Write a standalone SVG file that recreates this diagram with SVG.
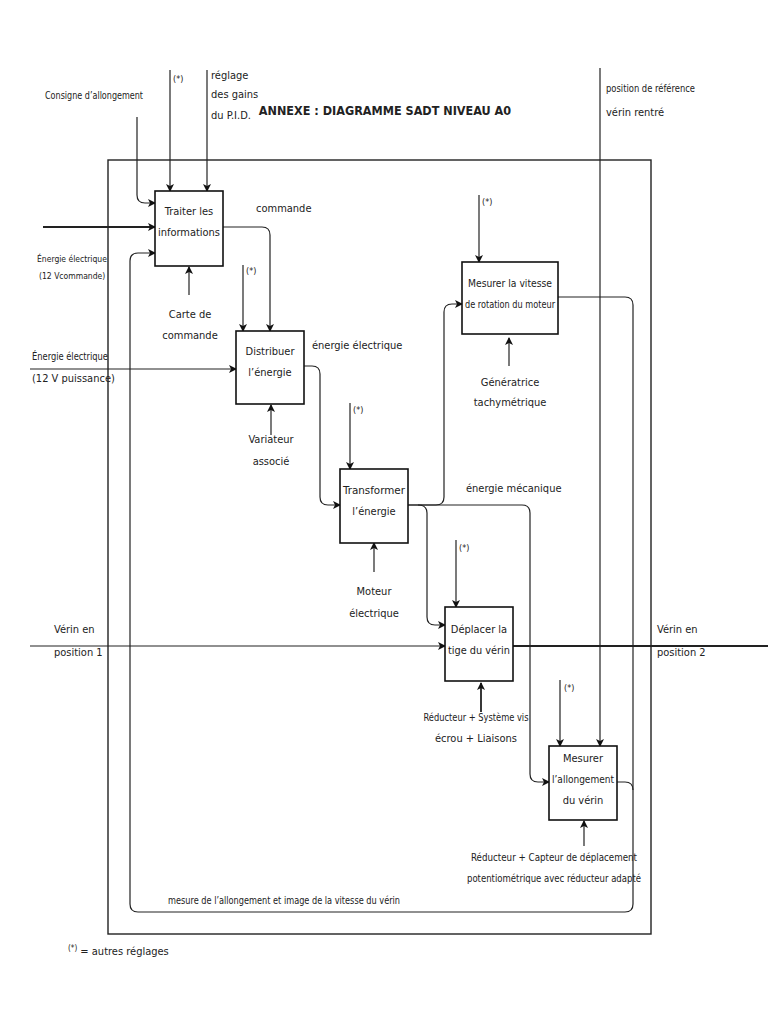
<svg xmlns="http://www.w3.org/2000/svg" width="768" height="1024" viewBox="0 0 768 1024">
<style>
text{font-family:"DejaVu Sans",sans-serif;font-stretch:condensed;font-size:11px;fill:#222}
.c{text-anchor:middle}
.box{fill:#fff;stroke:#111;stroke-width:1.6}
.ln{fill:none;stroke:#222;stroke-width:1.2}
.th{fill:none;stroke:#222;stroke-width:1.8}
</style>
<defs><marker id="a" markerWidth="8" markerHeight="8" refX="7" refY="4" orient="auto" markerUnits="userSpaceOnUse"><path d="M0,0 L8,4 L0,8 L2,4 Z" fill="#111"/></marker></defs>
<rect width="768" height="1024" fill="#fff"/>
<text x="385" y="115" class="c" style="font-weight:bold;font-size:12.5px">ANNEXE : DIAGRAMME SADT NIVEAU A0</text>
<rect x="108" y="160" width="543" height="774" fill="none" stroke="#222" stroke-width="1.4"/>
<g id="connectors">
<path class="ln" d="M137,117 V195 Q137,203 145,203 H155" marker-end="url(#a)"/>
<path class="ln" d="M170,70 V191" marker-end="url(#a)"/>
<path class="ln" d="M207,70 V191" marker-end="url(#a)"/>
<path class="th" d="M43,227 H155" marker-end="url(#a)"/>
<path class="ln" d="M189,295 V267" marker-end="url(#a)"/>
<path class="ln" d="M223,227 H262 Q270,227 270,235 V331" marker-end="url(#a)"/>
<path class="ln" d="M243,265 V331" marker-end="url(#a)"/>
<path class="ln" stroke="#888" d="M30,369 H236" marker-end="url(#a)"/>
<path class="ln" d="M271,435 V405" marker-end="url(#a)"/>
<path class="ln" d="M304,366 H312 Q320,366 320,374 V497 Q320,505 328,505 H340" marker-end="url(#a)"/>
<path class="ln" d="M350,403 V469" marker-end="url(#a)"/>
<path class="ln" d="M374,572 V543" marker-end="url(#a)"/>
<path class="ln" d="M408,505 H436 Q444,505 444,497 V312 Q444,304 452,304 H462" marker-end="url(#a)"/>
<path class="ln" d="M408,505 H522 Q530,505 530,513 V774 Q530,782 538,782 H549" marker-end="url(#a)"/>
<path class="ln" d="M418,505 Q427,505 427,513 V617 Q427,625 435,625 H445" marker-end="url(#a)"/>
<path class="ln" d="M479,195 V262" marker-end="url(#a)"/>
<path class="ln" d="M509,366 V338" marker-end="url(#a)"/>
<path class="ln" stroke="#777" d="M30,646 H445" marker-end="url(#a)"/>
<path class="th" d="M513,646 H768"/>
<path class="ln" d="M456,540 V607" marker-end="url(#a)"/>
<path class="th" d="M481,712 V683" marker-end="url(#a)"/>
<path class="ln" d="M600,68 V746" marker-end="url(#a)"/>
<path class="ln" d="M560,680 V746" marker-end="url(#a)"/>
<path class="ln" d="M584,846 V821" marker-end="url(#a)"/>
<path class="ln" d="M558,297 H625 Q633,297 633,305 V904 Q633,912 625,912 H138 Q130,912 130,904 V261 Q130,253 138,253 H155" marker-end="url(#a)"/>
<path class="ln" d="M617,782 H625 Q633,782 633,790"/>
</g>
<g id="n1"><rect class="box" x="155" y="191" width="68" height="75"/><text x="189" y="215" class="c">Traiter les</text><text x="189" y="236" class="c" textLength="62" lengthAdjust="spacingAndGlyphs">informations</text></g>
<g id="n2"><rect class="box" x="236" y="331" width="68" height="73"/><text x="270" y="355" class="c">Distribuer</text><text x="270" y="376" class="c">l’énergie</text></g>
<g id="n3"><rect class="box" x="340" y="469" width="68" height="74"/><text x="374" y="494" class="c" textLength="62" lengthAdjust="spacingAndGlyphs">Transformer</text><text x="374" y="515" class="c">l’énergie</text></g>
<g id="n4"><rect class="box" x="462" y="262" width="96" height="72"/><text x="510" y="287" class="c" textLength="84" lengthAdjust="spacingAndGlyphs">Mesurer la vitesse</text><text x="510" y="308" class="c" textLength="90" lengthAdjust="spacingAndGlyphs">de rotation du moteur</text></g>
<g id="n5"><rect class="box" x="445" y="607" width="68" height="74"/><text x="479" y="633" class="c">Déplacer la</text><text x="479" y="654" class="c" textLength="62" lengthAdjust="spacingAndGlyphs">tige du vérin</text></g>
<g id="n6"><rect class="box" x="549" y="746" width="68" height="74"/><text x="583" y="762" class="c">Mesurer</text><text x="583" y="783" class="c" textLength="62" lengthAdjust="spacingAndGlyphs">l’allongement</text><text x="583" y="804" class="c">du vérin</text></g>
<g id="labels">
<text x="45" y="99" textLength="98" lengthAdjust="spacingAndGlyphs">Consigne d’allongement</text>
<text x="173" y="82" style="font-size:9px">(*)</text>
<text x="211" y="79">réglage</text><text x="211" y="98">des gains</text><text x="211" y="119">du P.I.D.</text>
<text x="256" y="212">commande</text>
<text x="37" y="262" style="font-size:8.5px">Énergie électrique</text><text x="39" y="279" style="font-size:8.5px">(12 Vcommande)</text>
<text x="246" y="274" style="font-size:9px">(*)</text>
<text x="190" y="318" class="c">Carte de</text><text x="190" y="339" class="c">commande</text>
<text x="312" y="349">énergie électrique</text>
<text x="32" y="360" textLength="76" lengthAdjust="spacingAndGlyphs">Énergie électrique</text><text x="32" y="382">(12 V puissance)</text>
<text x="271" y="443" class="c">Variateur</text><text x="271" y="465" class="c">associé</text>
<text x="353" y="413" style="font-size:9px">(*)</text>
<text x="482" y="205" style="font-size:9px">(*)</text>
<text x="510" y="386" class="c">Génératrice</text><text x="510" y="406" class="c">tachymétrique</text>
<text x="466" y="492">énergie mécanique</text>
<text x="374" y="595" class="c">Moteur</text><text x="374" y="617" class="c">électrique</text>
<text x="459" y="551" style="font-size:9px">(*)</text>
<text x="54" y="633">Vérin en</text><text x="54" y="656">position 1</text>
<text x="657" y="633">Vérin en</text><text x="657" y="656">position 2</text>
<text x="476" y="721" class="c" textLength="105" lengthAdjust="spacingAndGlyphs">Réducteur + Système vis</text><text x="476" y="742" class="c">écrou + Liaisons</text>
<text x="564" y="691" style="font-size:9px">(*)</text>
<text x="606" y="92" textLength="89" lengthAdjust="spacingAndGlyphs">position de référence</text><text x="606" y="116">vérin rentré</text>
<text x="554" y="861" class="c" textLength="166" lengthAdjust="spacingAndGlyphs">Réducteur + Capteur de déplacement</text><text x="554" y="882" class="c" textLength="174" lengthAdjust="spacingAndGlyphs">potentiométrique avec réducteur adapté</text>
<text x="168" y="904" textLength="232" lengthAdjust="spacingAndGlyphs">mesure de l’allongement et image de la vitesse du vérin</text>
<text x="68" y="955"><tspan style="font-size:8px" dy="-4">(*)</tspan><tspan dy="4"> = autres réglages</tspan></text>
</g>
</svg>
